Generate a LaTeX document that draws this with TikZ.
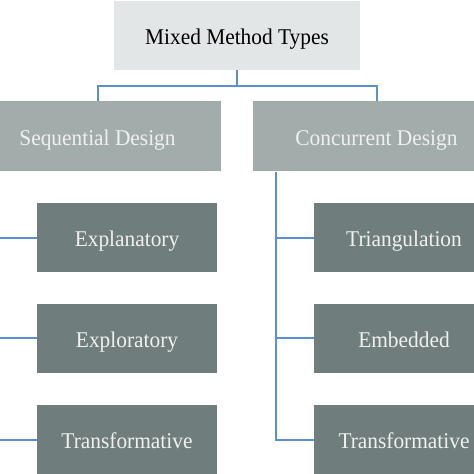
\documentclass[tikz,border=0pt]{standalone}
\usepackage{fontspec}
\setmainfont{Liberation Serif}[FakeStretch=0.95]
\usepackage{xcolor}
\usepackage{tikz}
\usetikzlibrary{positioning}

\definecolor{rootgray}{HTML}{E2E6E6}
\definecolor{designgray}{HTML}{A2ACAB}
\definecolor{typegray}{HTML}{6F7E7C}
\definecolor{linkblue}{HTML}{5B8FCF}

\begin{document}
\begin{tikzpicture}[
  x=1pt, y=-1pt,
  font=\fontsize{22.5}{26}\selectfont,
  every node/.style={text height=18pt, text depth=0pt},
  rootbox/.style={fill=rootgray, text=black, minimum width=246pt,
                  minimum height=69pt, inner sep=0pt, outer sep=0pt},
  design/.style={fill=designgray, text=white!94!black, minimum width=247pt,
                 minimum height=70pt, inner sep=0pt, outer sep=0pt},
  kind/.style={fill=typegray, text=white!94!black, minimum width=180pt,
               minimum height=69pt, inner sep=0pt, outer sep=0pt},
  link/.style={draw=linkblue, line width=2pt}
]
\useasboundingbox (0,0) rectangle (474,474);
\clip (0,0) rectangle (474,474);

% top
\node[rootbox] (root) at (237,35.5) {Mixed Method Types};

% second level
\node[design] (seq)  at (97.5,136)  {Sequential Design};
\node[design] (conc) at (376.5,136) {Concurrent Design};

% third level, left column
\node[kind] (expl)  at (127,237.5) {Explanatory};
\node[kind] (explo) at (127,338)   {Exploratory};
\node[kind] (trl)   at (127,439.5) {Transformative};

% third level, right column
\node[kind] (tri) at (404,237.5) {Triangulation};
\node[kind] (emb) at (404,338)   {Embedded};
\node[kind] (trr) at (404,439.5) {Transformative};

% spine coordinates
\coordinate (lspine) at (-4,172);
\coordinate (rspine) at (276,172);

% edges
\draw[link] (root.south) -- ++(0,16) -| (seq.north);
\draw[link] (root.south) -- ++(0,16) -| (conc.north);
\draw[link] (lspine) |- (expl.west);
\draw[link] (lspine) |- (explo.west);
\draw[link] (lspine) |- (trl.west);
\draw[link] (rspine) |- (tri.west);
\draw[link] (rspine) |- (emb.west);
\draw[link] (rspine) |- (trr.west);
\end{tikzpicture}
\end{document}
